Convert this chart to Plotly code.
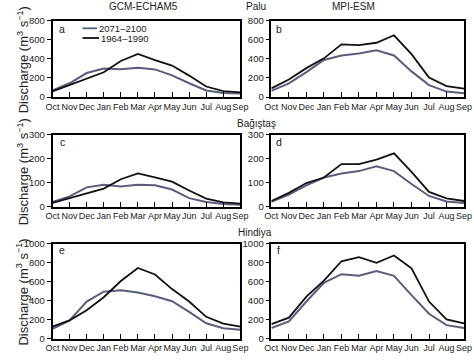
import plotly.graph_objects as go

W, H = 474, 363

months = ["Oct", "Nov", "Dec", "Jan", "Feb", "Mar", "Apr", "May", "Jun", "Jul", "Aug", "Sep"]
series_names = ["2071\u20132100", "1964\u20131990"]
model_titles = ["GCM-ECHAM5", "MPI-ESM"]
station_names = ["Palu", "Ba\u011f\u0131\u015fta\u015f", "Hindiya"]
panel_letters = ["a", "b", "c", "d", "e", "f"]

# Palu
a_future = [70, 145, 252, 300, 292, 308, 290, 228, 145, 70, 44, 37]
a_past = [60, 125, 190, 260, 378, 452, 387, 330, 225, 111, 62, 50]
b_future = [65, 143, 262, 388, 435, 456, 490, 435, 269, 126, 58, 41]
b_past = [92, 184, 303, 405, 551, 544, 568, 646, 449, 204, 116, 88]
# Bagistas
c_future = [20, 43, 81, 92, 85, 92, 90, 72, 36, 20, 11, 8]
c_past = [16, 35, 57, 76, 115, 139, 123, 105, 68, 34, 18, 13]
d_future = [20, 51, 89, 122, 139, 149, 169, 149, 95, 45, 22, 16]
d_past = [24, 58, 99, 122, 178, 178, 197, 223, 146, 62, 35, 24]
# Hindiya
e_future = [103, 192, 390, 493, 510, 486, 445, 394, 281, 161, 110, 92]
e_past = [127, 192, 298, 435, 606, 743, 675, 521, 390, 229, 158, 127]
f_future = [112, 180, 390, 586, 678, 661, 712, 661, 458, 261, 142, 112]
f_past = [153, 220, 441, 610, 814, 858, 797, 875, 739, 390, 203, 159]

y_max = [800, 800, 300, 300, 1000, 1000]
y_dtick = [200, 200, 100, 100, 200, 200]

panels = [(a_future, a_past), (b_future, b_past), (c_future, c_past),
          (d_future, d_past), (e_future, e_past), (f_future, f_past)]

FUT_COLOR = "#5c5c7e"
PAST_COLOR = "#111111"
FONT = "Liberation Sans, Arial, sans-serif"
TXT = "#222"


def fx(px):
    return px / W


def fy(py):
    return 1 - py / H


col_px = [(47, 241), (273, 472)]
row_px = [(15, 94), (133, 207), (245, 343)]

fig = go.Figure()
x_idx = list(range(len(months)))

layout = {}
for i, (fut, past) in enumerate(panels):
    r, c = divmod(i, 2)
    n = i + 1
    xa = "x" if n == 1 else f"x{n}"
    ya = "y" if n == 1 else f"y{n}"
    fig.add_trace(go.Scatter(x=x_idx, y=fut, mode="lines", xaxis=xa, yaxis=ya,
                             line=dict(color=FUT_COLOR, width=2), showlegend=False,
                             name=series_names[0]))
    fig.add_trace(go.Scatter(x=x_idx, y=past, mode="lines", xaxis=xa, yaxis=ya,
                             line=dict(color=PAST_COLOR, width=1.8), showlegend=False,
                             name=series_names[1]))
    xk = "xaxis" if n == 1 else f"xaxis{n}"
    yk = "yaxis" if n == 1 else f"yaxis{n}"
    x0, x1 = col_px[c]
    y0, y1 = row_px[r]
    layout[xk] = dict(domain=[fx(x0), fx(x1)], anchor=ya, range=[0, 11],
                      tickmode="array", tickvals=x_idx, ticktext=months,
                      tickangle=0,
                      ticks="inside", ticklen=5, tickwidth=1.3, tickcolor="black",
                      showline=True, linecolor="black", linewidth=1.5, mirror=True,
                      showgrid=False, zeroline=False,
                      tickfont=dict(family=FONT, size=9, color=TXT))
    layout[yk] = dict(domain=[fy(y1), fy(y0)], anchor=xa, range=[0, y_max[i]],
                      dtick=y_dtick[i], ticks="outside", ticklen=4, tickwidth=1.3,
                      tickcolor="black", showline=True, linecolor="black",
                      linewidth=1.5, mirror=True, showgrid=False, zeroline=False,
                      tickfont=dict(family=FONT, size=9.5, color=TXT))

annotations = []
# panel letters
letter_pos = [(57, 24), (281, 24), (57, 140), (281, 140), (57, 252), (280, 252)]
for L, (lx, ly) in zip(panel_letters, letter_pos):
    annotations.append(dict(text=L, x=fx(lx), y=fy(ly), xref="paper", yref="paper",
                            showarrow=False, xanchor="center", yanchor="middle",
                            font=dict(family=FONT, size=10.5, color=TXT)))
# model titles
for t, tx in zip(model_titles, [141, 358]):
    annotations.append(dict(text=t, x=fx(tx), y=fy(1), xref="paper", yref="paper",
                            showarrow=False, xanchor="center", yanchor="middle",
                            font=dict(family=FONT, size=10, color=TXT)))
# station names
for s, (sx, sy) in zip(station_names, [(257, 1), (258, 121), (256, 234)]):
    annotations.append(dict(text=s, x=fx(sx), y=fy(sy), xref="paper", yref="paper",
                            showarrow=False, xanchor="center", yanchor="middle",
                            font=dict(family=FONT, size=10, color=TXT)))
# y titles
for (y0, y1) in row_px:
    annotations.append(dict(text="Discharge (m<sup>3</sup> s<sup>\u22121</sup>)",
                            x=fx(16), y=fy((y0 + y1) / 2 + 1), xref="paper", yref="paper",
                            showarrow=False, textangle=-90, xanchor="center",
                            yanchor="middle",
                            font=dict(family=FONT, size=13, color=TXT)))
# legend
shapes = []
for name, col, ly, lx1 in [(series_names[0], FUT_COLOR, 23, 93),
                           (series_names[1], PAST_COLOR, 33, 95)]:
    shapes.append(dict(type="line", xref="paper", yref="paper", x0=fx(78), x1=fx(lx1),
                       y0=fy(ly), y1=fy(ly), line=dict(color=col, width=1.8)))
    annotations.append(dict(text=name, x=fx(lx1 + 1), y=fy(ly), xref="paper",
                            yref="paper", showarrow=False, xanchor="left",
                            yanchor="middle", borderpad=0,
                            font=dict(family=FONT, size=9.5, color=TXT)))

fig.update_layout(width=W, height=H, margin=dict(l=0, r=0, t=0, b=0),
                  paper_bgcolor="white", plot_bgcolor="white",
                  annotations=annotations, shapes=shapes, showlegend=False,
                  **layout)

fig.write_html("out.html", config={"displayModeBar": False},
               post_script="document.body.style.margin='0';document.body.style.padding='0';")
